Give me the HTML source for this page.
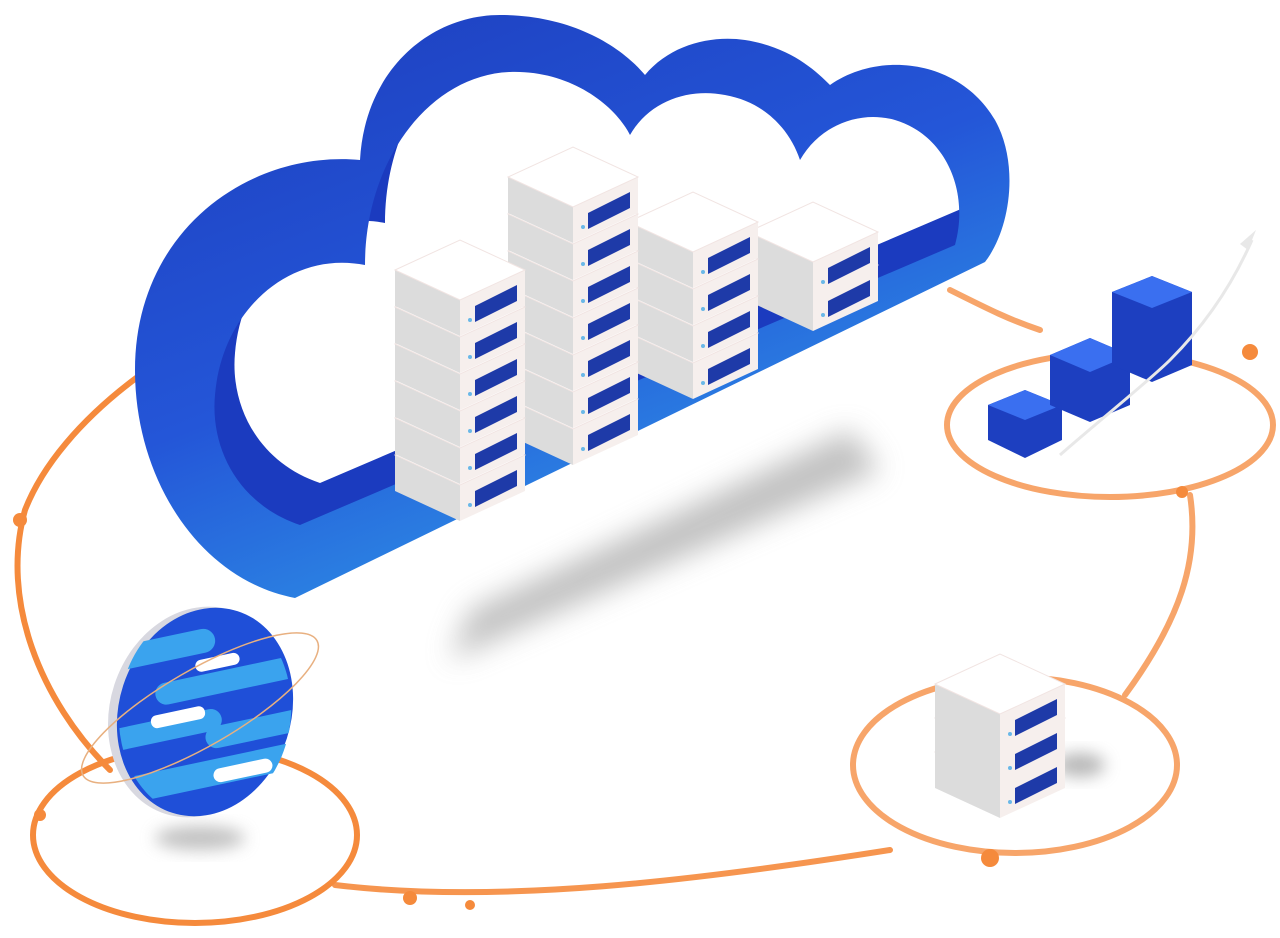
<!DOCTYPE html>
<html><head><style>html,body{margin:0;padding:0;background:#fff}svg{display:block}</style></head>
<body>
<svg width="1280" height="938" viewBox="0 0 1280 938" xmlns="http://www.w3.org/2000/svg">
<defs>
<filter id="bl" x="-50%" y="-50%" width="200%" height="200%"><feGaussianBlur stdDeviation="14"/></filter>
<filter id="bl2" x="-50%" y="-50%" width="200%" height="200%"><feGaussianBlur stdDeviation="8"/></filter>
<linearGradient id="cl" x1="0" y1="0" x2="0.6" y2="1"><stop offset="0" stop-color="#1d3dbd"/><stop offset="0.55" stop-color="#2456d8"/><stop offset="1" stop-color="#2f9ae8"/></linearGradient>
<path id="hole" d="M300,525 C240,505 210,450 215,395 C222,310 290,250 365,265 C365,160 430,75 510,72 C570,70 615,105 630,135 C650,100 690,88 725,95 C765,102 790,130 800,160 C820,125 860,110 895,120 C945,135 970,190 955,245 Z"/>
<clipPath id="hc"><use href="#hole"/></clipPath>
<g id="u">
<polygon points="0,0 65,30 65,66 0,36" fill="#dcdcdc"/>
<polygon points="65,30 130,0 130,36 65,66" fill="#f6efed"/>
<polygon points="0,0 65,-30 130,0 65,30" fill="#ffffff" stroke="#f1e4e2" stroke-width="1"/>
<polygon points="80,36 122,15 122,31 80,52" fill="#1e3aa8"/>
<circle cx="75" cy="50" r="2" fill="#6ab8e8"/>
</g>
</defs>
<rect width="1280" height="938" fill="#fff"/>
<g fill="none" stroke="#f58a3c" stroke-width="6" stroke-linecap="round">
<path d="M310,290 C180,330 60,420 25,510 C0,600 40,700 110,770" />
<path d="M335,885 C500,905 700,880 890,850" opacity="0.9"/>
<path d="M1125,695 C1180,620 1200,560 1190,495" stroke="#f7a56a"/>
<path d="M950,290 C990,310 1010,320 1040,330" stroke="#f7a56a"/>
<ellipse cx="195" cy="835" rx="162" ry="88"/>
<ellipse cx="1015" cy="765" rx="162" ry="88" stroke="#f7a56a"/>
<ellipse cx="1110" cy="425" rx="163" ry="72" stroke="#f7a56a"/>
</g>
<g fill="#f58a3c"><circle cx="20" cy="520" r="7"/><circle cx="40" cy="815" r="6"/><circle cx="410" cy="898" r="7"/><circle cx="470" cy="905" r="5"/><circle cx="990" cy="858" r="9"/><circle cx="1250" cy="352" r="8"/><circle cx="1182" cy="492" r="6"/></g>
<polygon points="450,660 470,610 850,430 880,470" fill="#9a9a9a" filter="url(#bl)" opacity="0.6"/>
<ellipse cx="200" cy="838" rx="45" ry="12" fill="#999" filter="url(#bl2)" opacity="0.6"/>
<path d="M295,598 C200,580 135,480 135,370 C135,230 250,150 360,160 C365,70 430,15 500,15 C570,15 620,45 645,75 C670,45 710,35 745,40 C790,47 815,70 830,85 C880,50 960,60 995,120 C1020,165 1010,230 985,262 Z" fill="url(#cl)"/>
<use href="#hole" fill="#1b3bbf"/>
<g clip-path="url(#hc)"><use href="#hole" fill="#fff" transform="translate(20,-42)"/></g>
<g>
<use href="#u" x="748" y="265"/><use href="#u" x="748" y="232"/>
<use href="#u" x="628" y="333"/><use href="#u" x="628" y="296"/><use href="#u" x="628" y="259"/><use href="#u" x="628" y="222"/>
<use href="#u" x="508" y="399"/><use href="#u" x="508" y="362"/><use href="#u" x="508" y="325"/><use href="#u" x="508" y="288"/><use href="#u" x="508" y="251"/><use href="#u" x="508" y="214"/><use href="#u" x="508" y="177"/>
<use href="#u" x="395" y="455"/><use href="#u" x="395" y="418"/><use href="#u" x="395" y="381"/><use href="#u" x="395" y="344"/><use href="#u" x="395" y="307"/><use href="#u" x="395" y="270"/>
</g>
<ellipse cx="1080" cy="765" rx="25" ry="12" fill="#888" filter="url(#bl2)" opacity="0.6"/>
<use href="#u" x="935" y="752"/><use href="#u" x="935" y="718"/><use href="#u" x="935" y="684"/>
<g>
<polygon points="988,405 1025,390 1062,405 1062,440 1025,458 988,440" fill="#1d3fc0"/>
<polygon points="988,405 1025,390 1062,405 1025,420" fill="#3a6ff0"/>
<polygon points="1050,355 1090,338 1130,355 1130,405 1090,422 1050,405" fill="#1d3fc0"/>
<polygon points="1050,355 1090,338 1130,355 1090,372" fill="#3a6ff0"/>
<polygon points="1112,292 1152,276 1192,292 1192,365 1152,382 1112,365" fill="#1d3fc0"/>
<polygon points="1112,292 1152,276 1192,292 1152,308" fill="#3a6ff0"/>
<path d="M1060,455 C1100,420 1150,380 1170,360 C1200,330 1230,290 1252,240" fill="none" stroke="#e8e8e8" stroke-width="3"/>
<polygon points="1256,230 1248,250 1240,244" fill="#e8e8e8"/>
</g>
<clipPath id="gc"><ellipse cx="205" cy="712" rx="86" ry="106" transform="rotate(18 205 712)"/></clipPath>
<ellipse cx="198" cy="712" rx="88" ry="107" transform="rotate(18 198 712)" fill="#d8d8e0"/>
<ellipse cx="205" cy="712" rx="86" ry="106" transform="rotate(18 205 712)" fill="#1f4fd8"/>
<g clip-path="url(#gc)" transform="rotate(-12 205 712)">
<g fill="#3aa3ee">
<rect x="120" y="630" width="110" height="24" rx="12"/>
<rect x="160" y="675" width="160" height="22" rx="11"/>
<rect x="90" y="710" width="130" height="22" rx="11"/>
<rect x="200" y="728" width="120" height="22" rx="11"/>
<rect x="100" y="760" width="200" height="26" rx="13"/>
</g>
<g fill="#fff"><rect x="205" y="660" width="45" height="12" rx="6"/><rect x="150" y="705" width="55" height="13" rx="6"/><rect x="200" y="770" width="60" height="14" rx="7"/></g>
</g>
<ellipse cx="200" cy="708" rx="135" ry="38" transform="rotate(-30 200 708)" fill="none" stroke="#e8b080" stroke-width="1.5"/>
</svg>
</body></html>
